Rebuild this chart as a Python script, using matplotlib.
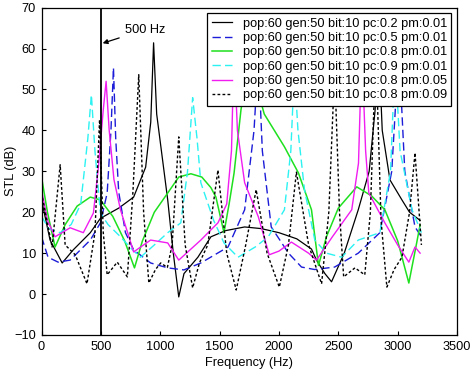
import matplotlib
matplotlib.use("Agg")
import matplotlib.pyplot as plt

# STL curves (Hz, dB)
labels = [
    "pop:60 gen:50 bit:10 pc:0.2 pm:0.01",
    "pop:60 gen:50 bit:10 pc:0.5 pm:0.01",
    "pop:60 gen:50 bit:10 pc:0.8 pm:0.01",
    "pop:60 gen:50 bit:10 pc:0.9 pm:0.01",
    "pop:60 gen:50 bit:10 pc:0.8 pm:0.05",
    "pop:60 gen:50 bit:10 pc:0.8 pm:0.09",
]

f_pc02 = [0, 72, 174, 267, 411, 496, 650, 776, 877, 920, 944, 970, 1063, 1110, 1156,
          1200, 1317, 1427, 1550, 1711, 1850, 2000, 2150, 2274, 2316, 2387, 2443, 2550,
          2668, 2760, 2810, 2838, 2870, 2935, 3036, 3100, 3189]
stl_pc02 = [23, 13.2, 7.6, 10.8, 15, 18.5, 21, 23.7, 31, 42, 61.4, 44, 23, 10, -0.7,
            5, 9, 14, 15.5, 16.4, 16, 15, 13.5, 11, 8.3, 5, 3, 10,
            20.6, 30, 45, 62, 40, 27.9, 23, 20, 18]

f_pc05 = [0, 55, 140, 241, 411, 496, 553, 585, 606, 625, 650, 707, 776, 919, 1063, 1199,
          1342, 1571, 1711, 1790, 1826, 1860, 1935, 2080, 2190, 2300, 2469, 2668, 2850,
          2950, 3010, 3060, 3146, 3200]
stl_pc05 = [14, 9, 7.8, 8.3, 13.2, 17.4, 24.7, 40, 55.3, 38, 25, 15, 10.8, 7.6, 6.4, 5.9,
            7.6, 11.5, 20.6, 40, 58, 35, 16.4, 10, 6.6, 6, 6.6, 10, 15,
            30, 60, 30, 16.4, 14]

f_pc08 = [0, 50, 114, 200, 300, 411, 496, 600, 700, 783, 850, 950, 1063, 1156, 1258,
          1350, 1427, 1469, 1537, 1580, 1622, 1680, 1760, 1800, 1876, 2046, 2164, 2274,
          2333, 2400, 2500, 2655, 2780, 2892, 3000, 3094, 3150, 3189]
stl_pc08 = [28.6, 20, 11.5, 17, 21.5, 23.7, 23, 19, 13, 6.4, 13, 20, 24.7, 28.6, 29.4,
            28.6, 26, 23.7, 15, 22, 29.6, 45, 60, 52, 44, 36, 29.6, 20.6,
            7, 14, 21, 26.2, 24, 20.6, 13, 2.7, 11, 16.9]

f_pc09 = [0, 60, 157, 250, 330, 390, 420, 450, 496, 560, 665, 760, 834, 950, 1063, 1173,
          1230, 1273, 1310, 1342, 1450, 1537, 1655, 1800, 1910, 2046, 2100, 2130, 2160,
          2215, 2302, 2400, 2528, 2668, 2850, 2940, 2978, 3020, 3121, 3200]
stl_pc09 = [19, 16, 15, 17, 22, 38, 48.7, 35, 19.8, 17, 14, 11, 9, 12, 15, 17.4,
            30, 48, 38, 27.2, 18, 12.5, 9, 11.5, 14, 20.6, 35, 55, 40,
            25.5, 13.2, 10, 9, 13.2, 15, 30, 58, 35, 20.6, 15]

f_pm05 = [0, 50, 114, 241, 352, 437, 479, 520, 544, 570, 610, 665, 776, 919, 1063, 1156,
          1342, 1427, 1486, 1560, 1600, 1622, 1650, 1711, 1826, 1918, 2000, 2105, 2249,
          2316, 2450, 2613, 2670, 2698, 2730, 2757, 2892, 3000, 3094, 3146, 3189]
stl_pm05 = [25.5, 18, 14, 16.2, 15, 19.8, 31, 45, 52, 40, 28, 20.6, 10.3, 13.2, 12.5, 8.3,
            13.2, 15.7, 17.4, 22, 35, 60, 40, 27.2, 18.9, 9.6, 10.5, 12.7, 10,
            8.3, 14, 20.6, 32, 60, 35, 24.7, 17.4, 12, 7.8, 11.5, 10]

f_pm09 = [0, 89, 157, 199, 284, 383, 450, 489, 520, 553, 638, 723, 770, 819, 860, 904,
          960, 1004, 1060, 1100, 1156, 1210, 1273, 1330, 1400, 1486, 1560, 1640, 1720,
          1808, 1900, 2003, 2080, 2147, 2250, 2359, 2420, 2469, 2510, 2545, 2640, 2723,
          2770, 2816, 2860, 2909, 2970, 3036, 3100, 3146, 3200]
stl_pm09 = [24.7, 11.5, 31.6, 12, 9.6, 2.5, 15, 42.6, 15, 4.7, 7.8, 4.2, 25, 53.6, 20, 2.7,
            6, 7.6, 6.5, 12, 38.4, 12, 1.5, 7.6, 12, 30.3, 10, 1, 12,
            25.5, 10, 1.7, 12, 29.8, 12, 2.5, 20, 55, 20, 4.2, 6.4, 4.7,
            20, 60, 18, 1.7, 6, 9, 20, 34.5, 12]

xticks = [0, 500, 1000, 1500, 2000, 2500, 3000, 3500]
yticks = [-10, 0, 10, 20, 30, 40, 50, 60, 70]
marker_freq = 500

plt.rcParams['font.family'] = ['Liberation Sans', 'DejaVu Sans']
plt.rcParams['font.size'] = 9.2

fig = plt.figure(figsize=(4.74, 3.72), dpi=100)
ax = fig.add_axes([0.0876, 0.0995, 0.8766, 0.880])

ax.plot(f_pc02, stl_pc02, color='black', lw=0.9, label=labels[0])
ax.plot(f_pc05, stl_pc05, color='#1c1cd8', lw=1.0, dashes=(6, 3), label=labels[1])
ax.plot(f_pc08, stl_pc08, color='#1ee01e', lw=1.1, label=labels[2])
ax.plot(f_pc09, stl_pc09, color='#2cf2f2', lw=1.0, dashes=(6, 3), label=labels[3])
ax.plot(f_pm05, stl_pm05, color='#f01cf0', lw=1.0, label=labels[4])
ax.plot(f_pm09, stl_pm09, color='black', lw=1.0, dashes=(2, 1.6), label=labels[5])

# 500 Hz marker
ax.axvline(marker_freq, color='black', lw=1.3)
ax.annotate("500 Hz", xy=(515, 61.3), xytext=(700, 64.6), ha='left', va='center',
            arrowprops=dict(arrowstyle='-|>', color='black', lw=0.9,
                            shrinkA=2, shrinkB=0, mutation_scale=7))

ax.set_xlim(0, 3500)
ax.set_ylim(-10, 70)
ax.set_xticks(xticks)
ax.set_yticks(yticks)
ax.tick_params(direction='in', length=3, width=0.8, pad=4)
for s in ax.spines.values():
    s.set_linewidth(0.9)
ax.set_xlabel("Frequency (Hz)", labelpad=3)
ax.set_ylabel("STL (dB)")
ax.yaxis.set_label_coords(-0.058, 0.5)

leg = ax.legend(loc='upper right', frameon=True, fancybox=False, framealpha=1,
                edgecolor='black', handlelength=1.6, handletextpad=0.8,
                labelspacing=0.18, borderpad=0.35, borderaxespad=0.45)
leg.get_frame().set_linewidth(0.9)

fig.savefig("out.png", dpi=100)
